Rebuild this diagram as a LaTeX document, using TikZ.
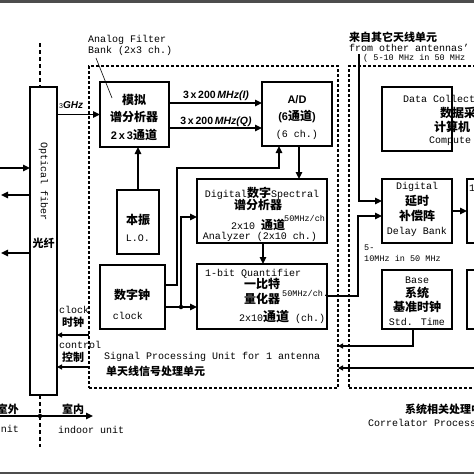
\documentclass[tikz,border=0pt]{standalone}
\usepackage{fontspec}
\setmainfont{Liberation Mono}
\newfontfamily\cjk{Noto Sans CJK SC}
\newfontfamily\sansf{Liberation Sans}
\usetikzlibrary{arrows.meta}
\definecolor{band}{HTML}{4D4D4D}
\begin{document}
\begin{tikzpicture}[x=1pt,y=-1pt,
 box/.style={draw,line width=1.3pt,inner sep=0pt,outer sep=0pt,anchor=north west},
 dbox/.style={draw,line width=1.1pt,dash pattern=on 3pt off 2pt,inner sep=0pt,outer sep=0pt,anchor=north west},
 arr/.style={line width=1.5pt,-{Triangle[length=7pt,width=6.5pt]}},
 sarr/.style={line width=1.3pt,-{Triangle[length=5pt,width=5pt]}},
 ln/.style={line width=1.5pt},
 mono/.style={font=\fontsize{10}{11}\selectfont,inner sep=0pt},
 smono/.style={font=\fontsize{8.5}{9.5}\selectfont,inner sep=0pt},
 zh/.style={font=\cjk\bfseries\fontsize{12}{13}\selectfont,inner sep=0pt},
 zhs/.style={font=\cjk\bfseries\fontsize{11}{12}\selectfont,inner sep=0pt},
 sb/.style={font=\sansf\bfseries\fontsize{10.5}{11}\selectfont,inner sep=0pt},
 dotst/.style={circle,fill,inner sep=0pt,minimum size=4.5pt},
]
\useasboundingbox (0,0) rectangle (474,474);
\fill[white] (0,0) rectangle (474,474);
\begin{scope}
\clip (0,0) rectangle (474,474);
\fill[band] (0,0) rectangle (474,2.5);
\fill[band] (0,471.5) rectangle (474,474);

% boxes
\node[box,minimum width=27pt,minimum height=308pt] (fiber) at (30,87) {};
\node[dbox,minimum width=249pt,minimum height=322pt] (spu) at (89,66) {};
\node[dbox,minimum width=180pt,minimum height=322pt] (cor) at (349,66) {};
\node[box,minimum width=69pt,minimum height=65pt] (af) at (100,82) {};
\node[box,minimum width=70pt,minimum height=64pt] (ad) at (262,82) {};
\node[box,minimum width=42pt,minimum height=64pt] (lo) at (117,190) {};
\node[box,minimum width=65pt,minimum height=64pt] (clk) at (100,265) {};
\node[box,minimum width=130pt,minimum height=64pt] (dsa) at (197,179) {};
\node[box,minimum width=130pt,minimum height=65pt] (qz) at (197,264) {};
\node[box,minimum width=70pt,minimum height=64pt] (dc) at (382,87) {};
\node[box,minimum width=70pt,minimum height=64pt] (db) at (382,179) {};
\node[box,minimum width=70pt,minimum height=59pt] (sbt) at (382,270) {};
\node[box,minimum width=60pt,minimum height=64pt] (r1) at (467,179) {};
\node[box,minimum width=60pt,minimum height=59pt] (r2) at (467,270) {};

% vertical dashed line (outdoor / indoor)
\draw[line width=1.3pt,dash pattern=on 4pt off 3pt] (40,43) -- (fiber.north -| 40,0);
\draw[line width=1.3pt,dash pattern=on 4pt off 3pt] (fiber.south -| 40,0) -- (40,447);

% fiber texts
\node[mono,rotate=-90] (oft) at (43.5,182) {Optical fiber};
\node[zhs] (gx) at (43.5,243) {光纤};

% left arrows
\coordinate (la) at (0,168);
\coordinate (lb) at (1,195);
\coordinate (lc) at (1,253);
\draw[arr] (la) -- (fiber.west |- la);
\draw[arr] (fiber.west |- lb) -- (lb);
\draw[arr] (fiber.west |- lc) -- (lc);

% 3GHz
\draw[arr] (fiber.east |- af.west) -- (af.west);
\node[inner sep=0pt,anchor=south west] (ghz) at (59,109) {{\sansf\fontsize{7}{8}\selectfont 3}{\sansf\bfseries\itshape\fontsize{10}{11}\selectfont GHz}};

% analog filter label
\node[mono,anchor=north west,align=left] (aflab) at (88,35) {Analog Filter\\Bank (2x3 ch.)};
\coordinate (ldA) at (96,58);
\coordinate (ldB) at (112,98);
\draw[line width=0.6pt] (ldA) -- (ldB);

% analog filter texts
\node[zh] (af1) at (134,100) {模拟};
\node[zh] (af2) at (134,117) {谱分析器};
\node[inner sep=0pt] (af3) at (134,135) {{\sansf\bfseries\fontsize{11}{12}\selectfont 2\,x\,3}{\cjk\bfseries\fontsize{12}{13}\selectfont 通道}};

% I / Q
\coordinate (yI) at (0,103);
\coordinate (yQ) at (0,128);
\draw[arr] (af.east |- yI) -- (ad.west |- yI);
\draw[arr] (af.east |- yQ) -- (ad.west |- yQ);
\node[sb] (lI) at (216,96) {3\,x\,200\,\textit{MHz(I)}};
\node[sb] (lQ) at (216,122) {3\,x\,200\,\textit{MHz(Q)}};

% A/D texts
\node[sb,font=\sansf\bfseries\fontsize{11}{12}\selectfont] (ad1) at (297,100) {A/D};
\node[inner sep=0pt] (ad2) at (297,116) {{\sansf\bfseries\fontsize{11}{12}\selectfont (6}{\cjk\bfseries\fontsize{12}{13}\selectfont 通道}{\sansf\bfseries\fontsize{11}{12}\selectfont )}};
\node[mono] (ad3) at (297,135) {(6 ch.)};

% LO
\node[zh] (lo1) at (138,220) {本振};
\node[mono] (lo2) at (138,238) {L.O.};
\draw[arr] (lo.north) -- (af.south -| lo.north);

% clock box
\node[zh] (ck1) at (132,295) {数字钟};
\node[mono] (ck2) at (128,316) {clock};

% clock connectors
\coordinate (yA) at (0,285);
\coordinate (yB) at (0,307);
\draw[arr] (clk.east |- yA) -- (177,285) -- (177,168) -- (279,168) -- (ad.south -| 279,0);
\node[dotst] (dot1) at (181,307) {};
\draw[arr] (clk.east |- yB) -- (qz.west |- yB);
\draw[arr] (dot1.center) -- (181,217) -- (dsa.west |- 0,217);
\draw[arr] (ad.south -| 299,0) -- (dsa.north -| 299,0);
\draw[arr] (dsa.south -| 263,0) -- (qz.north -| 263,0);

% DSA texts
\node[inner sep=0pt] (ds1) at (262,193) {{\fontsize{10}{11}\selectfont Digital}{\cjk\bfseries\fontsize{12}{13}\selectfont 数字}{\fontsize{10}{11}\selectfont Spectral}};
\node[zh] (ds2) at (258,205) {谱分析器};
\node[smono,anchor=west] (ds3) at (284,218) {50MHz/ch};
\node[inner sep=0pt] (ds4) at (258,225) {{\fontsize{10}{11}\selectfont 2x10 }{\cjk\bfseries\fontsize{12}{13}\selectfont 通道}};
\node[mono] (ds5) at (260,237) {Analyzer (2x10 ch.)};

% Quantifier texts
\node[mono,anchor=west] (q1) at (205,274) {1-bit Quantifier};
\node[zh] (q2) at (262,284) {一比特};
\node[zh] (q3) at (262,299) {量化器};
\node[smono,anchor=west] (q4) at (282,293) {50MHz/ch.};
\node[inner sep=0pt,anchor=west] (q5) at (239,317) {{\fontsize{10}{11}\selectfont 2x10}{\cjk\bfseries\fontsize{13}{14}\selectfont 通道}{\fontsize{10}{11}\selectfont\ (ch.)}};

% quantifier output to delay bank
\draw[arr] (qz.east |- 0,296) -- (358,296) -- (358,216) -- (db.west |- 0,216);

% from other antennas
\coordinate (fo) at (359,54);
\draw[arr] (fo) -- (359,201) -- (db.west |- 0,201);
\node[zhs,anchor=west] (t1) at (349,37) {来自其它天线单元};
\node[mono,anchor=west] (t2) at (349,48) {from other antennas'};
\node[smono,anchor=west] (t3) at (363,58) {( 5-10 MHz in 50 MHz};

% data collection
\node[mono,anchor=west] (dc1) at (403,99) {Data Collect};
\node[zh,anchor=west] (dc2) at (440,113) {数据采集};
\node[zh,anchor=west] (dc3) at (434,127) {计算机};
\node[mono,anchor=west] (dc4) at (429,141) {Compute};

% delay bank
\node[mono] (db1) at (417,187) {Digital};
\node[zh] (db2) at (417,201) {延时};
\node[zh] (db3) at (417,216) {补偿阵};
\node[mono] (db4) at (417,232) {Delay Bank};
\draw[arr] (db.east |- 0,211) -- (r1.west |- 0,211);
\node[mono,anchor=west] (r1t) at (469,188) {1};

\node[smono,anchor=west] (f1) at (364,248) {5-};
\node[smono,anchor=west] (f2) at (364,258) {10MHz in 50 MHz};

% base std time
\node[mono] (sb1) at (417,280) {Base};
\node[zh] (sb2) at (417,293) {系统};
\node[zh] (sb3) at (417,307) {基准时钟};
\node[mono] (sb4) at (417,322) {Std. Time};
\draw[sarr] (sbt.south -| 413,0) -- (413,346) -- (spu.east |- 0,346);
\coordinate (rc) at (474,368);
\draw[sarr] (rc) -- (spu.east |- rc);

% clock / control to fiber
\draw[sarr] (spu.west |- 0,335) -- (fiber.east |- 0,335);
\draw[sarr] (spu.west |- 0,367) -- (fiber.east |- 0,367);
\node[mono,anchor=west] (cl1) at (59,310) {clock};
\node[zhs] (cl2) at (73,322) {时钟};
\node[mono,anchor=west] (cl3) at (59,345) {control};
\node[zhs] (cl4) at (73,357) {控制};

% spu labels
\node[mono,anchor=west] (sp1) at (104,357) {Signal Processing Unit for 1 antenna};
\node[zhs,anchor=west] (sp2) at (106,371) {单天线信号处理单元};

% bottom outdoor/indoor
\coordinate (bo) at (0,416);
\node[dotst] (dot2) at (40,416) {};
\coordinate (bi) at (93,416);
\draw[arr] (bo) -- (bi);
\node[zhs,anchor=east] (od1) at (19,409) {室外};
\node[mono,anchor=east] (od2) at (19,429) {unit};
\node[zhs] (id1) at (73,409) {室内};
\node[mono,anchor=west] (id2) at (58,430) {indoor unit};

% correlator label
\node[zhs,anchor=west] (cp1) at (405,409) {系统相关处理中};
\node[mono,anchor=west] (cp2) at (368,423) {Correlator Processin};
\end{scope}
\end{tikzpicture}
\end{document}
